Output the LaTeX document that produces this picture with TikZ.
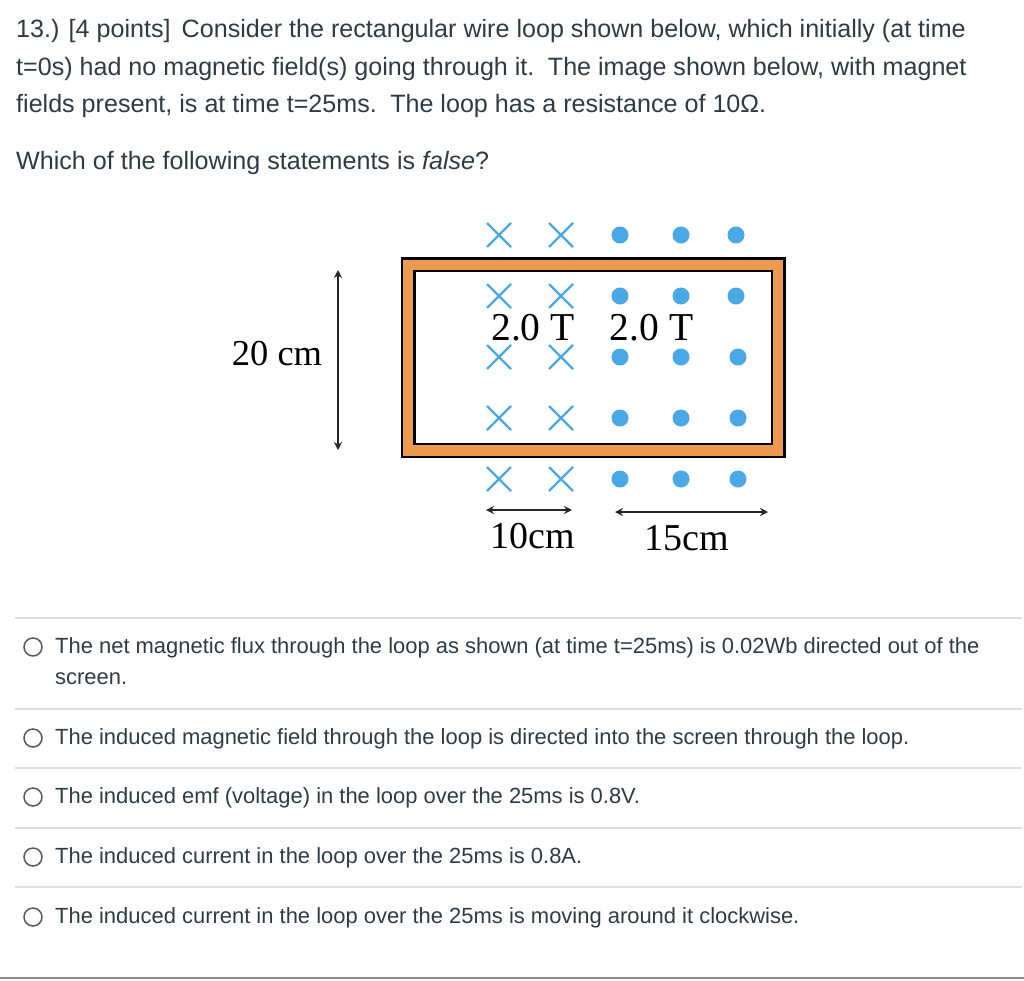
\documentclass[tikz,border=0pt]{standalone}
\usepackage{fontspec}
\setmainfont{Liberation Sans}
\newfontfamily\figfont{Liberation Serif}
\usetikzlibrary{arrows.meta}
\definecolor{inkgray}{HTML}{2D3B45}
\definecolor{fieldblue}{HTML}{4AA8E6}
\definecolor{looporange}{HTML}{EB9A4E}
\tikzset{
	question/.style={anchor=base west, inner sep=0pt, text=inkgray, font=\fontsize{25.1}{28}\selectfont},
	choice/.style={anchor=base west, inner sep=0pt, text=inkgray, font=\fontsize{21.95}{26}\selectfont},
	figlabel/.style={inner sep=0pt, text=black, font=\figfont\fontsize{38}{42}\selectfont},
	radio/.style={draw=black!65, line width=1.5pt, fill=white, circle, minimum size=18pt, inner sep=0pt},
	divider/.style={draw=black!13, line width=1.2pt},
	dimarrow/.style={{Stealth[length=8pt,width=8pt]}-{Stealth[length=8pt,width=8pt]}, line width=1.4pt, color=black!85}
}
\def\fieldin(#1,#2){\draw[line width=2.4pt, color=fieldblue] (#1-12, #2-12) -- (#1+12, #2+12) (#1-12, #2+12) -- (#1+12, #2-12);}
\def\fieldout(#1,#2){\fill[color=fieldblue] (#1, #2) circle (8.5);}

\begin{document}
\begin{tikzpicture}[x=1pt, y=-1pt]
	%%%%% START %%%%%
	\useasboundingbox (0, 0) rectangle (1024, 980);
	
	\node[question] (line1) at (16, 37) {13.) [4 points]\, Consider the rectangular wire loop shown below, which initially (at time};
	\node[question] (line2) at (16, 75) {t=0s) had no magnetic field(s) going through it.\, The image shown below, with magnet};
	\node[question] (line3) at (16, 112) {fields present, is at time t=25ms.\, The loop has a resistance of 10Ω.};
	\node[question] (line4) at (16, 169) {Which of the following statements is \textit{false}?};
	
	\draw[fill=looporange, even odd rule, line width=2.6pt] (402, 258.5) rectangle (784.5, 457) (414.5, 271) rectangle (772, 444);
	
	\fieldin(499, 235) \fieldin(561, 235) \fieldout(620, 235) \fieldout(681, 235) \fieldout(736, 235)
	\fieldin(499, 296) \fieldin(561, 296) \fieldout(620, 296) \fieldout(681, 296) \fieldout(736, 296)
	\fieldin(499, 357) \fieldin(561, 357) \fieldout(620, 357) \fieldout(681, 357) \fieldout(738, 357)
	\fieldin(499, 418) \fieldin(561, 418) \fieldout(620, 418) \fieldout(681, 418) \fieldout(738, 418)
	\fieldin(499, 479) \fieldin(561, 479) \fieldout(620, 479) \fieldout(681, 479) \fieldout(738, 479)
	
	\node[figlabel, font=\figfont\fontsize{36.5}{40}\selectfont] (lblheight) at (277, 354) {20 cm};
	\node[figlabel, font=\figfont\fontsize{39.5}{42}\selectfont] (lblleft) at (533, 328) {2.0 T};
	\node[figlabel, font=\figfont\fontsize{39.5}{42}\selectfont] (lblright) at (651.5, 328) {2.0 T};
	\node[figlabel] (lblten) at (533, 536) {10cm};
	\node[figlabel] (lblfifteen) at (687, 538) {15cm};
	
	\coordinate (hgttop) at (338, 270);
	\coordinate (hgtbot) at (338, 450);
	\coordinate (tenleft) at (486, 510);
	\coordinate (tenright) at (572, 510);
	\coordinate (fifleft) at (615, 512);
	\coordinate (fifright) at (768, 512);
	\draw[dimarrow] (hgttop) -- (hgtbot);
	\draw[dimarrow] (tenleft) -- (tenright);
	\draw[dimarrow] (fifleft) -- (fifright);
	
	\draw[divider] (15, 618) -- (1022, 618);
	\draw[divider] (15, 709) -- (1022, 709);
	\draw[divider] (15, 768) -- (1022, 768);
	\draw[divider] (15, 828) -- (1022, 828);
	\draw[divider] (15, 887) -- (1022, 887);
	\draw[line width=1.2pt, color=black!45] (0, 978) -- (1024, 978);
	
	\node[radio] (radioa) at (33, 647) {};
	\node[radio] (radiob) at (33, 738) {};
	\node[radio] (radioc) at (33, 797) {};
	\node[radio] (radiod) at (33, 857) {};
	\node[radio] (radioe) at (33, 917) {};
	
	\node[choice] (choicea) at (55, 653) {The net magnetic flux through the loop as shown (at time t=25ms) is 0.02Wb directed out of the};
	\node[choice] (choicea2) at (55, 684) {screen.};
	\node[choice] (choiceb) at (55, 744) {The induced magnetic field through the loop is directed into the screen through the loop.};
	\node[choice] (choicec) at (55, 803) {The induced emf (voltage) in the loop over the 25ms is 0.8V.};
	\node[choice] (choiced) at (55, 863) {The induced current in the loop over the 25ms is 0.8A.};
	\node[choice] (choicee) at (55, 923) {The induced current in the loop over the 25ms is moving around it clockwise.};
	%%%%% END %%%%%
\end{tikzpicture}
\end{document}
